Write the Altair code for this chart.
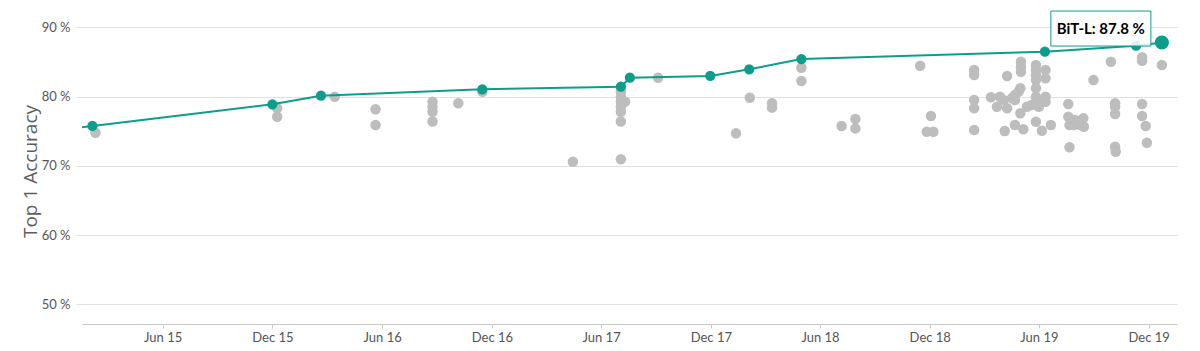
import altair as alt
import pandas as pd

# ---- data ----
sota_dates = ["2014-11-09", "2015-02-04", "2015-12-01", "2016-02-20", "2016-11-15",
              "2017-07-04", "2017-07-19", "2017-11-30", "2018-02-03", "2018-05-01",
              "2019-06-11", "2019-11-10", "2019-12-23"]
sota_acc = [74.84, 75.75, 78.88, 80.12, 81.05, 81.42, 82.72, 82.97, 83.93, 85.42,
            86.48, 87.34, 87.8]

gray_dates = [
    "2015-02-09", "2015-12-09", "2015-12-09", "2016-03-14", "2016-05-21", "2016-05-21",
    "2016-08-24", "2016-08-24", "2016-08-24", "2016-08-24", "2016-10-06", "2016-11-15",
    "2017-04-15", "2017-07-04", "2017-07-04", "2017-07-04", "2017-07-04", "2017-07-04",
    "2017-07-04", "2017-07-04", "2017-07-11", "2017-09-04", "2018-01-12", "2018-02-04",
    "2018-03-13", "2018-03-13", "2018-05-01", "2018-05-01", "2018-07-07", "2018-07-30",
    "2018-07-30", "2018-11-15", "2018-12-03", "2018-11-26", "2018-12-07", "2019-02-13",
    "2019-02-13", "2019-02-13", "2019-02-13", "2019-02-13", "2019-03-13", "2019-03-23",
    "2019-03-28", "2019-04-03", "2019-04-09", "2019-04-09", "2019-04-05", "2019-04-17",
    "2019-04-22", "2019-04-28", "2019-05-01", "2019-05-02", "2019-05-02", "2019-05-02",
    "2019-04-22", "2019-05-01", "2019-05-12", "2019-05-20", "2019-05-27", "2019-05-27",
    "2019-05-27", "2019-05-27", "2019-05-27", "2019-05-27", "2019-05-28", "2019-06-01",
    "2019-06-12", "2019-06-12", "2019-06-12", "2019-06-12", "2019-04-22", "2019-05-06",
    "2019-05-27", "2019-06-06", "2019-06-21", "2019-07-20", "2019-07-20", "2019-07-22",
    "2019-07-29", "2019-07-31", "2019-08-09", "2019-08-14", "2019-08-15", "2019-07-22",
    "2019-08-31", "2019-09-29", "2019-10-06", "2019-10-06", "2019-10-06", "2019-10-06",
    "2019-10-07", "2019-11-20", "2019-11-20", "2019-11-20", "2019-11-20", "2019-11-26",
    "2019-11-28", "2019-12-23"]
gray_acc = [
    74.78, 78.30, 77.09, 79.98, 78.16, 75.89,
    79.26, 78.50, 77.80, 76.40, 79.03, 80.70,
    70.59, 80.70, 79.98, 79.26, 78.50, 77.80,
    76.40, 70.94, 79.26, 82.72, 74.69, 79.83,
    79.03, 78.40, 84.17, 82.25, 75.75, 76.76,
    75.40, 84.45, 77.19, 74.92, 74.92, 83.83,
    83.11, 79.50, 78.30, 75.17, 79.89, 78.53,
    79.98, 79.50, 78.30, 82.97, 75.03, 79.75,
    80.22, 80.70, 81.19, 85.03, 84.31, 83.59,
    79.50, 77.58, 78.53, 78.78, 84.56, 83.83,
    83.11, 82.39, 81.19, 79.98, 79.26, 78.53,
    83.83, 82.63, 79.98, 79.26, 75.89, 75.27,
    76.37, 75.07, 75.89, 78.92, 77.09, 75.89,
    75.89, 76.61, 75.89, 76.86, 75.65, 72.67,
    82.39, 85.03, 79.03, 78.53, 77.48, 72.76,
    72.04, 85.67, 85.18, 78.92, 77.19, 75.75,
    73.34, 84.56]

tick_dates = ["2015-06-01", "2015-12-01", "2016-06-01", "2016-12-01", "2017-06-01",
              "2017-12-01", "2018-06-01", "2018-12-01", "2019-06-01", "2019-12-01"]
y_ticks = [50, 60, 70, 80, 90]
x_domain = ["2015-01-17T14:00", "2020-01-17T05:00"]
y_domain = [47.16, 93.22]
best_name = "BiT-L"
y_title = "Top 1 Accuracy"

TEAL = "#0c9e8a"
GRAY = "#bdbdbd"
FONT = "Lato"


def dt(s):
    d, _, t = s.partition("T")
    y, m, dd = (int(v) for v in d.split("-"))
    kw = dict(year=y, month=m, date=dd, utc=True)
    if t:
        kw["hours"] = int(t.split(":")[0])
    return alt.DateTime(**kw)


sota = pd.DataFrame({"date": sota_dates, "acc": sota_acc})
gray = pd.DataFrame({"date": gray_dates, "acc": gray_acc})
best = sota.tail(1).copy()
best["label"] = best_name + ": " + best["acc"].map(lambda v: f"{v:.1f}") + " %"

x = alt.X("date:T",
          scale=alt.Scale(type="utc", domain=[dt(v) for v in x_domain]),
          axis=alt.Axis(values=[dt(v) for v in tick_dates], format="%b %y", grid=False,
                        domainColor="#c8c8c8", tickColor="#c8c8c8", tickSize=4,
                        labelPadding=3, labelFont=FONT, labelFontSize=13,
                        labelColor="#555555", title=None))
y = alt.Y("acc:Q",
          scale=alt.Scale(domain=y_domain, nice=False, zero=False),
          axis=alt.Axis(values=y_ticks, labelExpr="datum.value + ' %'", domain=False,
                        gridColor="#e0e0e0", tickColor="#e0e0e0", tickSize=6,
                        labelPadding=6, labelFont=FONT, labelFontSize=13,
                        labelColor="#555555", title=y_title, titleFont="Open Sans",
                        titleFontSize=19, titleFontWeight="normal", titleColor="#5e5e5e",
                        titleAngle=270, titleX=-46, titleY=166, titleAlign="center",
                        titleBaseline="alphabetic"))

gray_layer = alt.Chart(gray).mark_circle(color=GRAY, size=110, opacity=1).encode(x=x, y=y)
line_layer = alt.Chart(sota).mark_line(color=TEAL, strokeWidth=2, clip=True).encode(x=x, y=y)
pts_layer = alt.Chart(sota).mark_circle(color=TEAL, size=105, opacity=1, clip=True).encode(x=x, y=y)
best_pt = alt.Chart(best).mark_circle(color=TEAL, size=200, opacity=1).encode(x=x, y=y)
box = alt.Chart(best).mark_rect(width=100, height=35, xOffset=-61, yOffset=-14,
                                fill="white", fillOpacity=0.85, stroke=TEAL,
                                strokeWidth=1).encode(x=x, y=y)
txt = alt.Chart(best).mark_text(font=FONT, fontWeight="bold", fontSize=15, color="black",
                                dx=-61, dy=-14, align="center", baseline="middle"
                                ).encode(x=x, y=y, text="label:N")

chart = alt.layer(gray_layer, line_layer, pts_layer, best_pt, box, txt).properties(
    width=1095, height=319,
    autosize=alt.AutoSizeParams(type="none"),
    padding={"left": 82, "top": 5, "right": 23, "bottom": 27},
    background="white",
).configure_view(stroke=None)

chart.save("out.html", embed_options={"renderer": "svg", "actions": False})
